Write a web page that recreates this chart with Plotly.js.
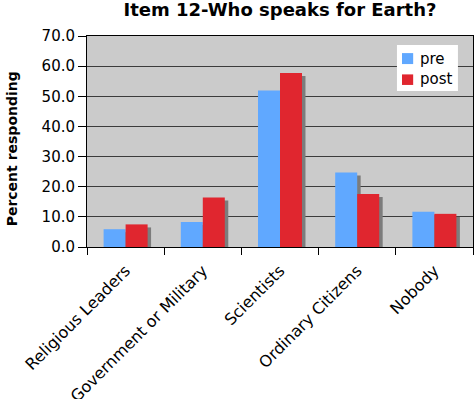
<!DOCTYPE html>
<html>
<head>
<meta charset="utf-8">
<script src="https://cdn.plot.ly/plotly-3.0.1.min.js"></script>
<style>html,body{margin:0;padding:0;background:#fff}#chart{width:474px;height:399px}</style>
</head>
<body>
<div id="chart"></div>
<script>
const categories = ["Religious Leaders", "Government or Military", "Scientists", "Ordinary Citizens", "Nobody"];
const preValues = [5.9, 8.3, 51.9, 24.7, 11.7];
const postValues = [7.5, 16.4, 57.7, 17.6, 11.0];
const seriesNames = ["pre", "post"];
const seriesColors = ["#60a8ff", "#e0262f"];
const yTicks = [0, 10, 20, 30, 40, 50, 60, 70];

const barW = 0.285;
const shadowShift = 0.045;
const shadowColor = "#7c7c7c";

const shadowPre = {type: "bar", x: categories, y: preValues, base: -1, width: barW,
  offset: -barW + shadowShift, marker: {color: shadowColor}, showlegend: false, hoverinfo: "skip"};
const shadowPost = {type: "bar", x: categories, y: postValues, base: -1, width: barW,
  offset: shadowShift, marker: {color: shadowColor}, showlegend: false, hoverinfo: "skip"};
const pre = {type: "bar", name: seriesNames[0], x: categories, y: preValues, width: barW,
  offset: -barW, marker: {color: seriesColors[0]}, showlegend: false};
const post = {type: "bar", name: seriesNames[1], x: categories, y: postValues, width: barW,
  offset: 0, marker: {color: seriesColors[1]}, showlegend: false};

// custom legend box (paper coordinates)
const legendShapes = [
  {type: "rect", xref: "paper", yref: "paper", x0: 0.803, x1: 0.961, y0: 0.739, y1: 0.957,
    fillcolor: "#ffffff", line: {width: 0}},
  {type: "rect", xref: "paper", yref: "paper", x0: 0.816, x1: 0.845, y0: 0.867, y1: 0.919,
    fillcolor: seriesColors[0], line: {width: 0}},
  {type: "rect", xref: "paper", yref: "paper", x0: 0.816, x1: 0.845, y0: 0.768, y1: 0.818,
    fillcolor: seriesColors[1], line: {width: 0}}
];
const legendTexts = [
  {xref: "paper", yref: "paper", x: 0.857, y: 0.893, xanchor: "left", yanchor: "middle",
    text: seriesNames[0], showarrow: false, font: {size: 15}},
  {xref: "paper", yref: "paper", x: 0.857, y: 0.794, xanchor: "left", yanchor: "middle",
    text: seriesNames[1], showarrow: false, font: {size: 15}},
  {xref: "paper", yref: "paper", x: -0.192, y: 0.467, xanchor: "center", yanchor: "middle",
    textangle: -90, text: "<b>Percent responding</b>", showarrow: false, font: {size: 14}}
];

const layout = {
  width: 474, height: 399,
  margin: {l: 87, r: 1, t: 36, b: 152},
  paper_bgcolor: "#ffffff",
  plot_bgcolor: "#cbcbcb",
  barmode: "overlay",
  showlegend: false,
  font: {family: "DejaVu Sans, Verdana, sans-serif", color: "#000"},
  title: {text: "<b>Item 12-Who speaks for Earth?</b>", font: {size: 18, family: "DejaVu Sans, Verdana, sans-serif"},
    xref: "paper", x: 0.5, xanchor: "center", yref: "container", y: 0.992, yanchor: "top"},
  xaxis: {
    type: "category",
    tickangle: -45,
    tickfont: {size: 16},
    ticks: "outside", ticklen: 7, tickcolor: "#000", tickson: "boundaries",
    ticklabelstandoff: 7,
    showline: true, linecolor: "#000", linewidth: 1, mirror: true,
    showgrid: false,
    range: [-0.5, 4.5]
  },
  yaxis: {
    range: [0, 70],
    tickvals: yTicks,
    tickformat: ".1f",
    tickfont: {size: 15},
    ticks: "outside", ticklen: 8, tickcolor: "#000",
    showline: true, linecolor: "#000", linewidth: 1, mirror: true,
    showgrid: true, gridcolor: "#3c3c3c", gridwidth: 1,
    zeroline: false
  },
  shapes: legendShapes,
  annotations: legendTexts
};

Plotly.newPlot("chart", [shadowPre, shadowPost, pre, post], layout, {displayModeBar: false, staticPlot: true});
</script>
</body>
</html>
